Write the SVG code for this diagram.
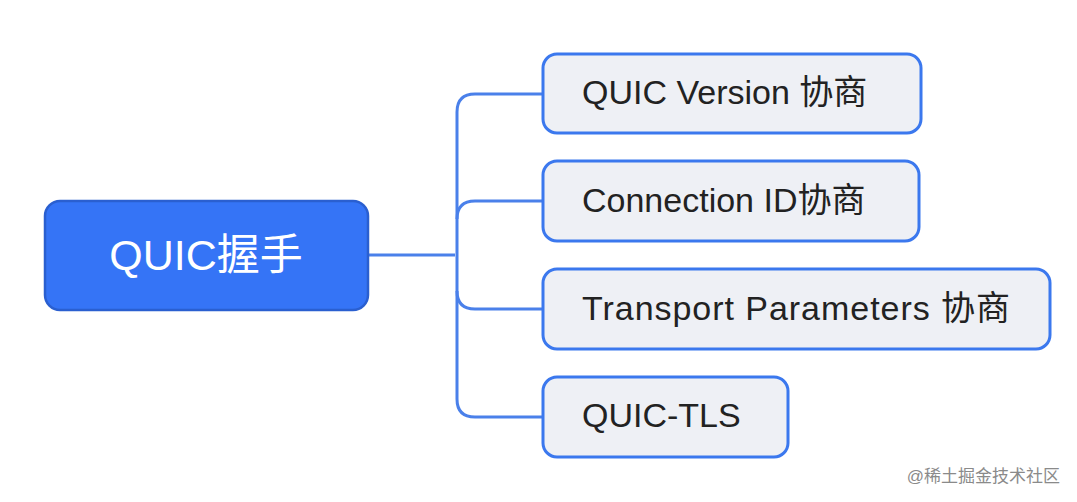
<svg xmlns="http://www.w3.org/2000/svg" width="1077" height="502" viewBox="0 0 1077 502">
<style>
.c{fill:none;stroke:#4a80ea;stroke-width:3}
.n rect{fill:#eef0f5;stroke:#3b78ee;stroke-width:3}
.n text{font-family:"Liberation Sans","Noto Sans CJK SC",sans-serif;font-size:34px;fill:#222}
</style>
<rect width="1077" height="502" fill="#fff"/>
<g id="connectors">
<path class="c" d="M368 255H455"/>
<path class="c" d="M543 94H475Q457 94 457 112V399Q457 417 475 417H543"/>
<path class="c" d="M543 201H475Q457 201 457 219"/>
<path class="c" d="M457 291Q457 309 475 309H543"/>
</g>
<g id="root">
<rect x="45" y="201" width="323" height="109" rx="15" fill="#3574f6" stroke="#2a5fd0" stroke-width="2.5"/>
<text x="206" y="270" text-anchor="middle" font-family="Liberation Sans,Noto Sans CJK SC,sans-serif" font-size="43" fill="#fff">QUIC握手</text>
</g>
<g id="n1" class="n"><rect x="543" y="54" width="378" height="79" rx="14"/><text x="582" y="104">QUIC Version 协商</text></g>
<g id="n2" class="n"><rect x="543" y="161" width="376" height="80" rx="14"/><text x="582" y="212">Connection ID协商</text></g>
<g id="n3" class="n"><rect x="543" y="269" width="507" height="80" rx="14"/><text x="582" y="320" textLength="428">Transport Parameters 协商</text></g>
<g id="n4" class="n"><rect x="543" y="377" width="245" height="80" rx="14"/><text x="582" y="427">QUIC-TLS</text></g>
<text x="1060" y="482" text-anchor="end" font-family="Liberation Sans,Noto Sans CJK SC,sans-serif" font-size="17" fill="#8a8a8a">@稀土掘金技术社区</text>
</svg>
